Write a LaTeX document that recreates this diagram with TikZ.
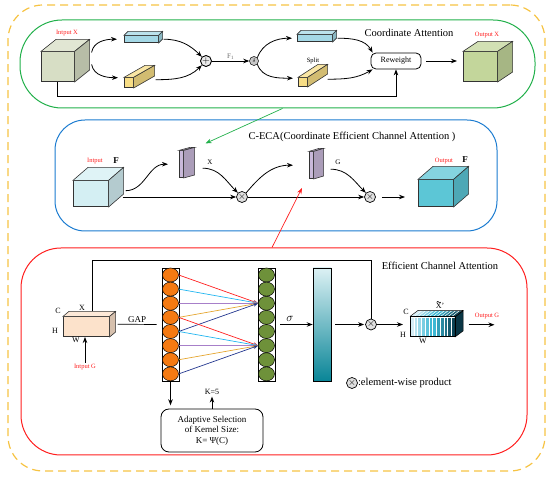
\documentclass[tikz,border=0pt]{standalone}
\usepackage{fontspec}
\setmainfont{Liberation Serif}
\usetikzlibrary{arrows.meta,shapes.geometric,calc}

\definecolor{gold}{HTML}{F6C343}
\definecolor{cagreen}{HTML}{22B04B}
\definecolor{ecablue}{HTML}{1A7BD0}
\definecolor{ecared}{HTML}{FF1F1F}
\definecolor{cubeA}{HTML}{D7DEC5}
\definecolor{cubeG}{HTML}{C3D69B}
\definecolor{barB}{HTML}{A4D8E6}
\definecolor{barY}{HTML}{F7DD85}
\definecolor{cubeC}{HTML}{D4EFF3}
\definecolor{cubeT}{HTML}{5CC6D6}
\definecolor{slab}{HTML}{C9B9DA}
\definecolor{peach}{HTML}{FCE2CB}
\definecolor{orangeN}{HTML}{F57A12}
\definecolor{greenN}{HTML}{6E913A}
\definecolor{tealL}{HTML}{DCF1F4}
\definecolor{tealM}{HTML}{2A9EB0}
\definecolor{tealD}{HTML}{098597}
\definecolor{xlight}{HTML}{D6EEF6}
\definecolor{xmid}{HTML}{3DB8D4}
\definecolor{xdark}{HTML}{0C4456}
\definecolor{lblue}{HTML}{21B5F0}
\definecolor{lpurple}{HTML}{A77FC9}
\definecolor{lgold}{HTML}{E5A631}
\definecolor{dblue}{HTML}{23378F}

% name, x, y (front lower left), width, height, dx, dy, colour
\newcommand{\cuboid}[8]{%
  \node[face, fill=#8, minimum width=#4pt, minimum height=#5pt] (#1) at (#2,#3) {};
  \draw[line width=0.6pt, draw=black!80, fill=#8!75!white] (#1.north west) -- ++(#6pt,#7pt) -- ([shift={(#6pt,#7pt)}]#1.north east) -- (#1.north east) -- cycle;
  \draw[line width=0.6pt, draw=black!80, fill=#8!85!black] (#1.north east) -- ++(#6pt,#7pt) -- ([shift={(#6pt,#7pt)}]#1.south east) -- (#1.south east) -- cycle;
}

\begin{document}
\begin{tikzpicture}[x=1pt, y=1pt,
  face/.style = {draw=black!80, anchor=south west, inner sep=0pt, line width=0.6pt},
  frame/.style = {draw, line width=1pt, inner sep=0pt},
  arr/.style = {-{Stealth[length=6pt,width=4.5pt]}, line width=0.8pt},
  op/.style = {circle, draw, line width=0.7pt, fill=black!12, minimum size=11pt, inner sep=0pt},
  lbl/.style = {font=\fontsize{6.5}{7}\selectfont, text=ecared, inner sep=1pt},
  txt/.style = {font=\fontsize{10.5}{12}\selectfont},
  dim/.style = {font=\fontsize{8}{9}\selectfont, inner sep=0pt},
  bigF/.style = {font=\bfseries\fontsize{9}{10}\selectfont, inner sep=0pt},
  col/.style = {draw, fill=white, minimum width=17pt, minimum height=113pt, inner sep=0pt, line width=0.6pt},
  ocirc/.style = {ellipse, draw, fill=orangeN, minimum width=16pt, minimum height=14pt, inner sep=0pt, line width=0.5pt},
  gcirc/.style = {ellipse, draw, fill=greenN, minimum width=16pt, minimum height=14pt, inner sep=0pt, line width=0.5pt}]

\useasboundingbox (0,0) rectangle (550,477);

% frames
\node[frame, draw=gold, line width=1.2pt, dash pattern=on 8pt off 5pt, rounded corners=35pt, minimum width=537pt, minimum height=466pt] (all) at (276.5,239) {};
\node[frame, draw=cagreen, rounded corners=42pt, minimum width=515pt, minimum height=88pt] (ca) at (277.5,413) {};
\node[frame, draw=ecablue, rounded corners=30pt, minimum width=442pt, minimum height=111pt] (eca) at (276,301.5) {};
\node[frame, draw=ecared, rounded corners=40pt, minimum width=506pt, minimum height=207pt] (ech) at (274,125.5) {};

% coordinate attention
\cuboid{inX}{41}{395}{33}{30}{15}{12}{cubeA}
\node[lbl] (linX) at (67,444) {Intput X};
\cuboid{b1}{124}{434}{34}{7}{4}{4}{barB}
\cuboid{y1}{124}{389}{9}{10}{21}{12}{barY}
\node[op, fill=black!8, line width=0.9pt] (plus) at (206,416) {$+$};
\node[op, minimum size=9pt, fill=black!22, line width=0.5pt, font=\tiny] (dl) at (254,416) {$\delta$};
\cuboid{b2}{297}{435}{35}{7}{4}{4}{barB}
\cuboid{y2}{298}{390}{9}{9}{20}{13}{barY}
\node[font=\fontsize{6.5}{7}\selectfont, inner sep=0pt] (spl) at (313,416) {Split};
\node[draw, rounded corners=5pt, line width=0.8pt, minimum width=50pt, minimum height=16pt, font=\fontsize{8}{9}\selectfont] (rw) at (396,416) {Reweight};
\cuboid{outX}{463}{395}{34}{30}{15}{10}{cubeG}
\node[lbl] (loutX) at (487,442) {Output X};
\node[txt] (tca) at (409,444) {Coordinate Attention};

\draw[arr] ([shift={(17pt,-1pt)}]inX.north east) to[out=80,in=180] ([xshift=-7pt]b1.west);
\draw[arr] ([shift={(17pt,-13pt)}]inX.north east) to[out=-80,in=180] ([shift={(-6pt,5pt)}]y1.west);
\draw[arr] ([xshift=5pt]b1.east) to[out=0,in=135] (plus.north west);
\draw[arr] ([shift={(22pt,3pt)}]y1.east) to[out=0,in=-135] (plus.south west);
\draw[arr] (plus) -- node[above=1pt, font=\fontsize{7}{8}\selectfont, text=black!60, inner sep=0pt] (f1) {F\textsubscript{1}} (dl);
\draw[arr] (dl.north east) to[out=70,in=180] ([xshift=-5pt]b2.west);
\draw[arr] (dl.south east) to[out=-70,in=180] ([shift={(-5pt,4pt)}]y2.west);
\draw[arr] ([xshift=5pt]b2.east) to[out=0,in=120] ([xshift=2pt]rw.north west);
\draw[arr] ([shift={(20pt,3pt)}]y2.east) to[out=0,in=-150] ([xshift=2pt]rw.south west);
\draw[arr] ([xshift=5pt]rw.east) -- ($(rw.east -| outX.west)+(-6,0)$);
\draw[arr] (inX.south) -- ++(0,-14) -| (rw.south);

% C-ECA
\node[txt] (teca) at (352,340) {C-ECA(Coordinate Efficient Channel Attention )};
\cuboid{inF}{73}{270}{35}{26}{15}{13}{cubeC}
\node[lbl] (linF) at (95,316) {Intput};
\node[bigF] (fin) at (116,316) {F};
\cuboid{s1}{179}{299}{4}{27}{11}{3}{slab}
\node[dim, font=\fontsize{7}{8}\selectfont] (lx) at (210,315) {X};
\node[op] (m1) at (242,280) {$\times$};
\cuboid{s2}{309}{298}{4}{27}{10}{3}{slab}
\node[dim, font=\fontsize{7}{8}\selectfont] (lg) at (338,315) {G};
\node[op] (m2) at (370,280) {$\times$};
\cuboid{outF}{418}{270}{35}{27}{15}{13}{cubeT}
\node[lbl] (loutF) at (444,316) {Output};
\node[bigF] (fout) at (465,317) {F};

\draw[arr] ([shift={(17pt,3pt)}]inF.east) to[out=0,in=180] ([xshift=-11pt]s1.west);
\draw[arr] ($(inF.east |- m1)+(14,0)$) -- (m1.west);
\draw[arr] ([shift={(19pt,-4pt)}]s1.east) to[out=0,in=135] (m1.north west);
\draw[arr] (m1.north east) to[out=50,in=180] ([xshift=-16pt]s2.west);
\draw[arr] ([shift={(17pt,-4pt)}]s2.east) to[out=0,in=135] (m2.north west);
\draw[arr] (m1) -- (m2);
\draw[arr] ([xshift=6pt]m2.east) -- ($(m2 -| outF.west)+(-13,0)$);

\draw[arr, cagreen, line width=0.7pt] ([xshift=5pt]ca.south) -- ($(s1.north east)+(22,7)$);
\draw[arr, ecared, line width=0.7pt] ([xshift=-2pt]ech.north) -- ($(s2.south west)+(-7,-9)$);

% efficient channel attention
\node[txt] (tech) at (440,211) {Efficient Channel Attention};
\cuboid{xg}{63}{140}{46}{20}{6}{5}{peach}
\node[dim] (lc1) at (58,166) {C};
\node[dim] (lx1) at (82,169) {X};
\node[dim] (lh1) at (55,146) {H};
\node[dim] (lw1) at (76,137) {W};
\node[lbl] (linG) at (85,110) {Intput G};
\draw[arr] (linG.north) -- (linG.north |- xg.south);

\node[col] (oc) at (170.5,152.5) {};
\node[col] (gc) at (266.5,152.5) {};
\foreach \i in {1,...,8} {
  \node[ocirc] (o\i) at (170.5,202-14.125*\i+14.125) {};
  \node[gcirc] (g\i) at (266.5,202-14.125*\i+14.125) {};
}
\foreach \s/\t/\c in {1/3/ecared, 2/3/lblue, 3/3/lpurple, 4/3/lgold, 5/3/dblue,
                      4/6/ecared, 5/6/lblue, 6/6/lpurple, 7/6/lgold, 8/6/dblue}
  \draw[-{Stealth[length=5pt,width=3.5pt]}, \c, line width=0.7pt] (o\s.east) -- (g\t.west);

\draw[line width=0.7pt] ([shift={(8pt,2.5pt)}]xg.east) -- node[above=0pt, font=\fontsize{9}{10}\selectfont, inner sep=1pt] (gap) {GAP} ($(oc.west)+(-5,0)$);

\node[draw, inner sep=0pt, line width=0.6pt, minimum width=18pt, minimum height=113pt, top color=tealL, middle color=tealM, bottom color=tealD] (tb) at (322,152.5) {};
\draw[arr] ($(gc.east)+(5,0)$) -- node[pos=0.3, above=-1pt, font=\fontsize{12}{12}\selectfont] (sg) {$\sigma$} (tb.west);

\node[op] (m3) at (371,152.5) {$\times$};
\draw[arr] ($(tb.east)+(4,0)$) -- ($(m3.west)+(-1,0)$);
\draw[line width=0.7pt] ($(xg.north)+(6,5)$) -- ++(0,51) -| (m3.north);

% reweighted output
\foreach \i in {0,...,11} {
  \ifnum\i<6 \pgfmathtruncatemacro\p{\i*20}\colorlet{st}{xmid!\p!xlight}
  \else \pgfmathtruncatemacro\p{(\i-6)*20}\colorlet{st}{xdark!\p!xmid}\fi
  \draw[fill=st, draw=white, line width=0.4pt] (410+3.75*\i,140) rectangle ++(3.75,20);
  \draw[fill=st, draw=white, line width=0.4pt] (410+3.75*\i,160) -- ++(8,6) -- ++(3.75,0) -- ++(-8,-6) -- cycle;
}
\draw[fill=xdark!80!black, line width=0.5pt] (455,140) -- (455,160) -- ++(8,6) -- ++(0,-20) -- cycle;
\node[draw, line width=0.5pt, inner sep=0pt, minimum width=45pt, minimum height=20pt, anchor=south west] (xs) at (410,140) {};
\draw[line width=0.5pt] (xs.north west) -- ++(8,6) -- ++(45,0) -- (xs.north east);
\node[dim] (lc2) at (406,165) {C};
\node[dim, anchor=base] (lx2) at (440,168) {X'};
\coordinate (tl2) at ($(lx2.north west)+(1.2,1.4)$);
\draw[line width=0.5pt] (tl2) sin ++(1,0.7) cos ++(1,-0.7) sin ++(1,-0.7) cos ++(1,0.7);
\node[dim] (lh2) at (403,142) {H};
\node[dim] (lw2) at (423,136) {W};
\draw[arr] (m3.east) -- ($(m3.east -| xs.west)+(-7,0)$);
\draw[arr] ($(xs.east)+(13,2)$) -- ++(26,0);
\node[lbl] (loutG) at (487,161) {Output G};

\node[op] (mleg) at (352,94) {$\times$};
\node[txt, anchor=west, inner sep=0pt] (tleg) at (mleg.east) {:element-wise product};

% kernel size
\node[draw, rounded corners=8pt, line width=0.8pt, minimum width=102pt, minimum height=43pt, align=center, font=\fontsize{9}{10.5}\selectfont] (ks) at (212,46.5) {Adaptive Selection\\of Kernel Size:\\K= Ψ(C)};
\draw[arr] (oc.south) -- ++(0,-24);
\draw[arr] (ks.north) -- ++(0,12) node[above=1pt, font=\fontsize{8}{9}\selectfont, inner sep=1pt] (k5) {K=5};
\end{tikzpicture}
\end{document}
